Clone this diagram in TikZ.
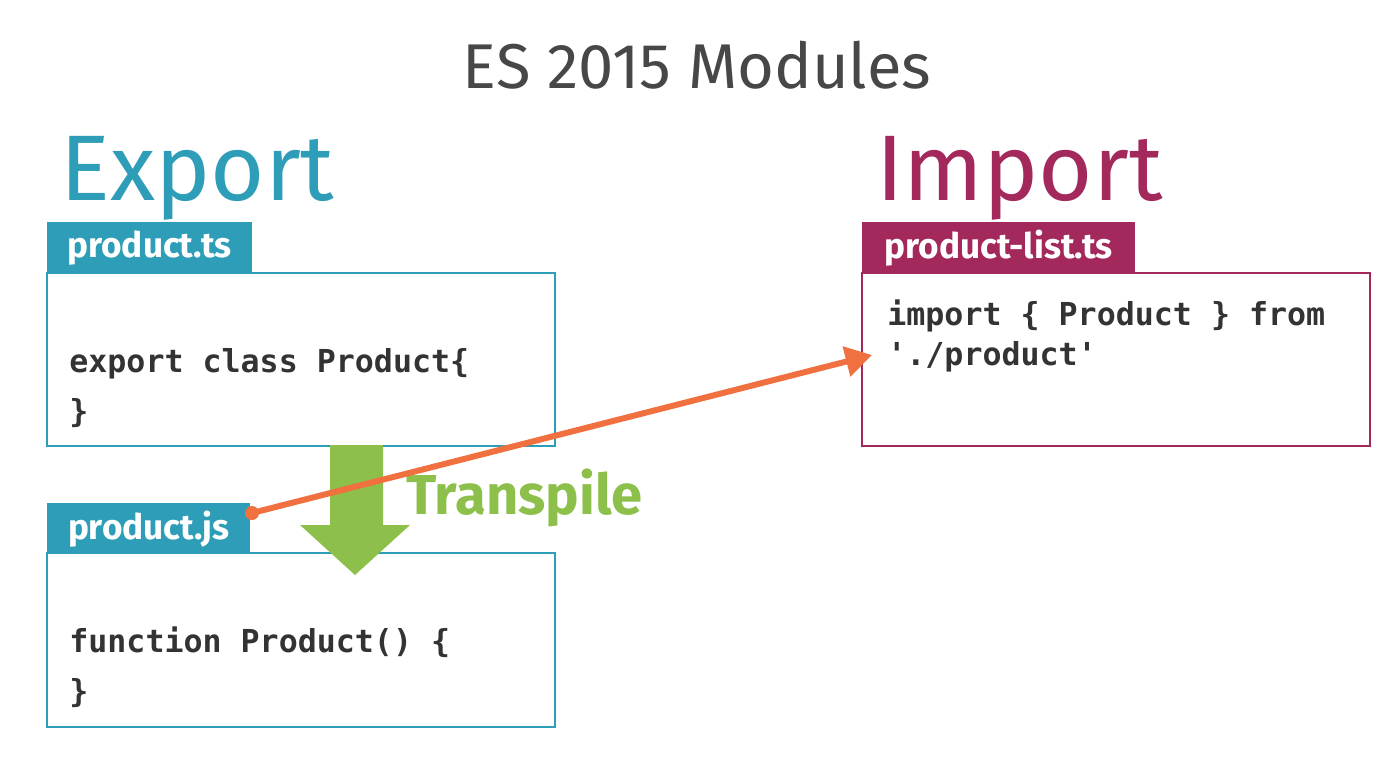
\documentclass[tikz,border=0pt]{standalone}
\usepackage{fontspec}
\setmainfont{Fira Sans}
\setmonofont{DejaVu Sans Mono}
\usetikzlibrary{arrows.meta}
\definecolor{teal}{HTML}{2E9DB8}
\definecolor{plum}{HTML}{A3285C}
\definecolor{leaf}{HTML}{8DC04A}
\definecolor{tang}{HTML}{F0703F}
\definecolor{ink}{HTML}{333333}
\begin{document}
\begin{tikzpicture}[x=0.02cm,y=-0.02cm]
        \useasboundingbox (0,0) rectangle (1397,781);

        \node (title) at (697,65) {\fontsize{36}{40}\selectfont\color{ink!90}ES 2015 Modules};
        \node[anchor=base west,inner sep=0pt,text=teal] (export) at (60,200) {\fontsize{53}{58}\selectfont Export};
        \node[anchor=base west,inner sep=0pt,text=plum] (import) at (876,200) {\fontsize{53}{58}\selectfont Import};

        % file boxes
        \begin{scope}[line width=0.8pt]
          \draw[teal] (47,273) rectangle (555,446);
          \draw[teal] (47,553) rectangle (555,727);
          \draw[plum] (862,273) rectangle (1370,446);
        \end{scope}

        % tabs
        \begin{scope}[every node/.style={anchor=north west,minimum height=51*0.02cm,inner xsep=20*0.02cm,text=white,font=\fontsize{20}{22}\selectfont\bfseries}]
          \node[fill=teal,minimum width=203*0.02cm,align=left] (ts)   at (47,222)  {product.ts\hfill};
          \node[fill=teal,minimum width=203*0.02cm] (js)   at (47,503)  {product.js\hfill};
          \node[fill=plum,minimum width=273*0.02cm] (list) at (862,222) {product-list.ts\hfill};
        \end{scope}

        % code
        \begin{scope}[every node/.style={anchor=base west,inner sep=0pt,text=ink,font=\fontsize{18}{20}\ttfamily\bfseries}]
          \node (c1) at (69,372)  {export class Product\{};
          \node (c2) at (69,422)  {\}};
          \node (c3) at (69,652)  {function Product() \{};
          \node (c4) at (69,702)  {\}};
          \node (c5) at (887,325) {import \{ Product \} from};
          \node (c6) at (887,365) {'./product'};
        \end{scope}

        % transpile arrow
        \fill[leaf] (330,445) -- (383,445) -- (383,525) -- (410,525) -- (355,575)
          -- (300,525) -- (330,525) -- cycle;
        \node[text=leaf,anchor=west,font=\fontsize{32}{34}\selectfont\bfseries] (tr) at (400,498) {Transpile};

        % reference arrow
        \coordinate (src) at (252,513);
        \coordinate (dst) at (872,355);
        \fill[tang] (src) circle (7);
        \draw[tang,line width=3.4pt,-{Triangle[length=15pt,width=17pt]}] (src) -- (dst);

\end{tikzpicture}
\end{document}
